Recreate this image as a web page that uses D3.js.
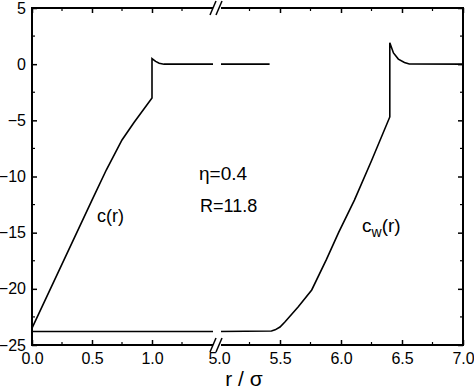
<!DOCTYPE html>
<html>
<head>
<meta charset="utf-8">
<script src="https://cdn.jsdelivr.net/npm/d3@7"></script>
<style>
  body { margin: 0; background: #fff; }
  text { font-family: "Liberation Sans", Arial, sans-serif; fill: #000; }
</style>
</head>
<body>
<div id="chart"></div>
<script>
// values
var cR = [0, 0.5, 0.62, 0.75, 0.85, 1.0, 1.0, 1.03, 1.06, 1.1, 1.5, 1.98];
var cV = [-23.5, -12.1, -9.4, -6.75, -5.2, -3.0, 0.5, 0.25, 0.08, 0, 0, 0];

var cwR = [3.4, 5.0, 5.43, 5.46, 5.5, 5.54, 5.65, 5.76, 5.88, 5.98, 6.11, 6.25, 6.4, 6.4, 6.43, 6.47, 6.52, 6.56, 7.0];
var cwV = [-23.8, -23.8, -23.75, -23.65, -23.4, -22.95, -21.6, -20.1, -17.4, -15.0, -12.1, -8.6, -4.7, 1.9, 1.0, 0.45, 0.15, 0.02, 0];

var xTicksLeft = [0, 0.5, 1.0];
var xTicksRight = [5.0, 5.5, 6.0, 6.5, 7.0];
var xMinorLeft = [0.25, 0.75, 1.25];
var xMinorRight = [5.25, 5.75, 6.25, 6.75];
var yTicks = [5, 0, -5, -10, -15, -20, -25];
var yMinor = [2.5, -2.5, -7.5, -12.5, -17.5, -22.5];

var margin = {top: 8, right: 11, bottom: 46, left: 32};
var width = 474 - margin.left - margin.right;
var height = 391 - margin.top - margin.bottom;
var breakX = 185;

var svg = d3.select("#chart")
  .append("svg")
    .attr("width", 474)
    .attr("height", 391)
  .append("g")
    .attr("transform", "translate(" + margin.left + "," + margin.top + ")");

// broken x axis: two scales
var xL = d3.scaleLinear().domain([0, 1]).range([0, 120]);
var xR = d3.scaleLinear().domain([5, 7]).range([187, width]);
var y = d3.scaleLinear().domain([-25, 5]).range([height, 0]);

svg.append("clipPath").attr("id", "clip")
  .append("rect").attr("width", width).attr("height", height);

var cData = cR.map(function(r, i) { return [r, cV[i]]; });
var cwData = cwR.map(function(r, i) { return [r, cwV[i]]; });

svg.append("path")
  .datum(cData)
  .attr("clip-path", "url(#clip)")
  .attr("d", d3.line().x(function(d) { return xL(d[0]); }).y(function(d) { return y(d[1]); }))
  .attr("fill", "none").attr("stroke", "#000").attr("stroke-width", 1.6);

svg.append("path")
  .datum(cwData)
  .attr("clip-path", "url(#clip)")
  .attr("d", d3.line().x(function(d) { return xR(d[0]); }).y(function(d) { return y(d[1]); }))
  .attr("fill", "none").attr("stroke", "#000").attr("stroke-width", 1.6);

// frame
svg.append("rect")
  .attr("width", width).attr("height", height)
  .attr("fill", "none").attr("stroke", "#000").attr("stroke-width", 2);

var fmt = d3.format(".1f");

function bottomAxis(scale, vals) {
  var g = svg.append("g")
    .attr("transform", "translate(0," + height + ")")
    .call(d3.axisBottom(scale).tickValues(vals).tickFormat(fmt).tickSizeInner(-5).tickSizeOuter(0).tickPadding(8));
  g.select(".domain").remove();
  g.selectAll("line").attr("stroke-width", 1.5);
  g.selectAll("text").style("font-size", "16px");
}
function topAxis(scale, vals) {
  var g = svg.append("g")
    .call(d3.axisTop(scale).tickValues(vals).tickFormat("").tickSizeInner(-5).tickSizeOuter(0));
  g.select(".domain").remove();
  g.selectAll("line").attr("stroke-width", 1.5);
}
bottomAxis(xL, xTicksLeft);
bottomAxis(xR, xTicksRight);
topAxis(xL, xTicksLeft);
topAxis(xR, xTicksRight);

var gy = svg.append("g")
  .call(d3.axisLeft(y).tickValues(yTicks).tickFormat(d3.format("d")).tickSizeInner(-5).tickSizeOuter(0).tickPadding(6));
gy.select(".domain").remove();
gy.selectAll("line").attr("stroke-width", 1.5);
gy.selectAll("text").style("font-size", "16px");

var gr = svg.append("g")
  .attr("transform", "translate(" + width + ",0)")
  .call(d3.axisRight(y).tickValues(yTicks).tickFormat("").tickSizeInner(-5).tickSizeOuter(0));
gr.select(".domain").remove();
gr.selectAll("line").attr("stroke-width", 1.5);

// minor ticks
var minor = svg.append("g").attr("stroke", "#000").attr("stroke-width", 1.2);
xMinorLeft.map(xL).concat(xMinorRight.map(xR)).forEach(function(px) {
  if (Math.abs(px - breakX) < 8) return;
  minor.append("line").attr("x1", px).attr("x2", px).attr("y1", height).attr("y2", height - 3);
  minor.append("line").attr("x1", px).attr("x2", px).attr("y1", 0).attr("y2", 3);
});
yMinor.forEach(function(v) {
  minor.append("line").attr("x1", 0).attr("x2", 3).attr("y1", y(v)).attr("y2", y(v));
  minor.append("line").attr("x1", width).attr("x2", width - 3).attr("y1", y(v)).attr("y2", y(v));
});

// axis break
svg.append("rect")
  .attr("x", breakX - 4).attr("y", -4).attr("width", 8).attr("height", height + 8)
  .attr("fill", "#fff");
[0, height].forEach(function(yy) {
  [-4, 2].forEach(function(dx) {
    svg.append("line")
      .attr("x1", breakX + dx - 3).attr("y1", yy + 7)
      .attr("x2", breakX + dx + 3).attr("y2", yy - 7)
      .attr("stroke", "#000").attr("stroke-width", 1.5);
  });
});

// labels
svg.append("text").attr("x", 167).attr("y", 172).style("font-size", "19px").text("η=0.4");
svg.append("text").attr("x", 168).attr("y", 204).style("font-size", "18px").text("R=11.8");
svg.append("text").attr("x", 65).attr("y", 214).style("font-size", "18px").text("c(r)");
var cw = svg.append("text").attr("x", 330).attr("y", 224).style("font-size", "19px");
cw.append("tspan").text("c");
cw.append("tspan").attr("dy", 5).style("font-size", "14px").text("w");
cw.append("tspan").attr("dy", -5).text("(r)");

svg.append("text")
  .attr("x", 212).attr("y", 378)
  .attr("text-anchor", "middle")
  .style("font-size", "21px")
  .text("r / σ");
</script>
</body>
</html>
